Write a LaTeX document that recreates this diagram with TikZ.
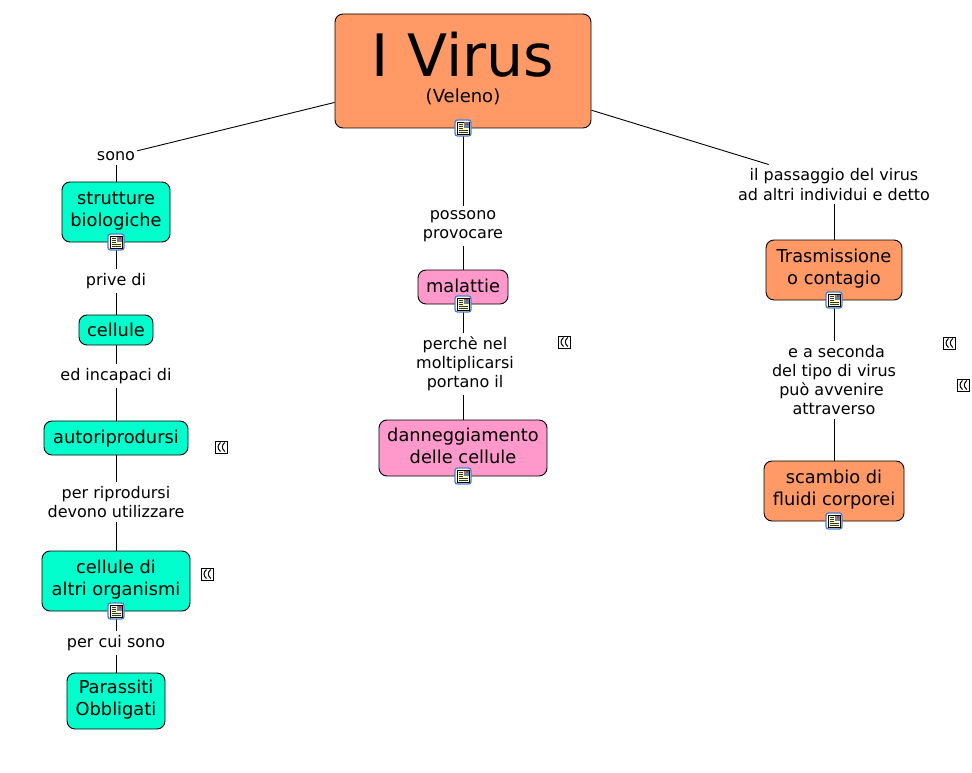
\documentclass[tikz,border=0pt]{standalone}
\usepackage{fontspec}
\setmainfont{DejaVu Sans}
\usetikzlibrary{positioning}
\definecolor{virusorange}{HTML}{FF9966}
\definecolor{cellteal}{HTML}{00FFCC}
\definecolor{malpink}{HTML}{FF99CC}
\definecolor{iconblue}{HTML}{4A7EC8}
\definecolor{iconyellow}{HTML}{FFFFC8}
\tikzset{
  concept/.style={rectangle, draw=black, line width=0.9pt, rounded corners=8pt, align=center, inner sep=0pt, text depth=6pt, font=\fontsize{17.8}{22}\selectfont},
  linkword/.style={rectangle, align=center, inner xsep=2pt, inner ysep=4pt, font=\fontsize{16}{19.2}\selectfont},
  link/.style={draw=black, line width=0.9pt},
  noteicon/.pic={
    \draw[iconblue, fill=white, rounded corners=2.5pt, line width=1.3pt] (-8,-8) rectangle (8,8);
    \draw[black, fill=iconyellow, line width=0.7pt] (-6,-6) rectangle (6,6);
    \fill[gray!60!iconblue] (0.5,-5.5) rectangle (5.5,0);
    \fill[red!60!gray] (2.5,-5) rectangle (5,-3);
    \foreach \ly in {-4,-2,0,2,4} {\draw[black!80, line width=0.7pt] (-4.5,\ly) -- (\ifdim\ly pt<1pt -0.5\else 4.5\fi,\ly);}
  },
  expandicon/.pic={
    \draw[black, fill=white, line width=0.9pt] (-6,-6) rectangle (6,6);
    \draw[black, line width=1pt] (-0.5,-4.5) .. controls (-3.8,-1.5) and (-3.8,1.5) .. (-0.5,4.5);
    \draw[black, line width=1pt] (3.8,-4.5) .. controls (0.5,-1.5) and (0.5,1.5) .. (3.8,4.5);
  }
}
\begin{document}
\begin{tikzpicture}[x=1pt,y=-1pt]
\useasboundingbox (0,0) rectangle (972,773);

% root
\node at (463,71)[concept, text depth=8pt, fill=virusorange, minimum width=256pt, minimum height=114pt] (virus) {\fontsize{58.5}{60}\selectfont I Virus\\[4pt]\fontsize{18}{20}\selectfont (Veleno)};

% left column
\node at (116,156)[linkword] (sono) {sono};
\node at (116,212)[concept, fill=cellteal, minimum width=108pt, minimum height=60pt] (strutture) {strutture\\biologiche};
\node at (116,281)[linkword] (prive) {prive di};
\node at (116,330)[concept, text depth=1pt, fill=cellteal, minimum width=74pt, minimum height=30pt] (cellule) {cellule};
\node at (116,376)[linkword] (incapaci) {ed incapaci di};
\node at (116,438)[concept, text depth=2pt, fill=cellteal, minimum width=144pt, minimum height=34pt] (autoprod) {autoriprodursi};
\node at (116,502)[linkword] (riprodursi) {per riprodursi\\devono utilizzare};
\node at (116,581)[concept, fill=cellteal, minimum width=148pt, minimum height=60pt] (organismi) {cellule di\\altri organismi};
\node at (116,643)[linkword] (percui) {per cui sono};
\node at (116,701)[concept, fill=cellteal, minimum width=98pt, minimum height=56pt] (parassiti) {Parassiti\\Obbligati};

% middle column
\node at (463,226)[linkword] (possono) {possono\\provocare};
\node at (463,287)[concept, text depth=2pt, fill=malpink, minimum width=90pt, minimum height=34pt] (malattie) {malattie};
\node at (463,364)[linkword] (perche) {\hspace*{4pt}perchè nel\\\hspace*{4pt}moltiplicarsi\\\hspace*{4pt}portano il};
\node at (463,448)[concept, text depth=4pt, fill=malpink, minimum width=168pt, minimum height=56pt] (danno) {danneggiamento\\delle cellule};

% right column
\node at (834,184.5)[linkword] (passaggio) {il passaggio del virus\\ad altri individui e detto};
\node at (834,270)[concept, fill=virusorange, minimum width=136pt, minimum height=60pt] (contagio) {Trasmissione\\o contagio};
\node at (834,380)[linkword] (seconda) {\hspace*{5pt}e a seconda\\del tipo di virus\\\hspace*{-5pt}può avvenire\\attraverso};
\node at (834,491)[concept, fill=virusorange, minimum width=140pt, minimum height=60pt] (fluidi) {scambio di\\fluidi corporei};

\draw[link] (virus) -- (sono);
\draw[link] (sono) -- (strutture);
\draw[link] (strutture) -- (prive);
\draw[link] (prive) -- (cellule);
\draw[link] (cellule) -- (incapaci);
\draw[link] (incapaci) -- (autoprod);
\draw[link] (autoprod) -- (riprodursi);
\draw[link] (riprodursi) -- (organismi);
\draw[link] (organismi) -- (percui);
\draw[link] (percui) -- (parassiti);
\draw[link] (virus) -- (possono);
\draw[link] (possono) -- (malattie);
\draw[link] (malattie) -- (perche);
\draw[link] (perche) -- (danno);
\draw[link] (virus) -- (passaggio);
\draw[link] (passaggio) -- (contagio);
\draw[link] (contagio) -- (seconda);
\draw[link] (seconda) -- (fluidi);

\foreach \ix/\iy in {463/128, 116/242, 463/304, 463/476, 834/300, 834/521, 116/611}
  \pic at (\ix,\iy) {noteicon};
\foreach \ix/\iy in {564/342, 949/343, 963/385, 221/447, 207/574}
  \pic at (\ix,\iy) {expandicon};
\end{tikzpicture}
\end{document}
